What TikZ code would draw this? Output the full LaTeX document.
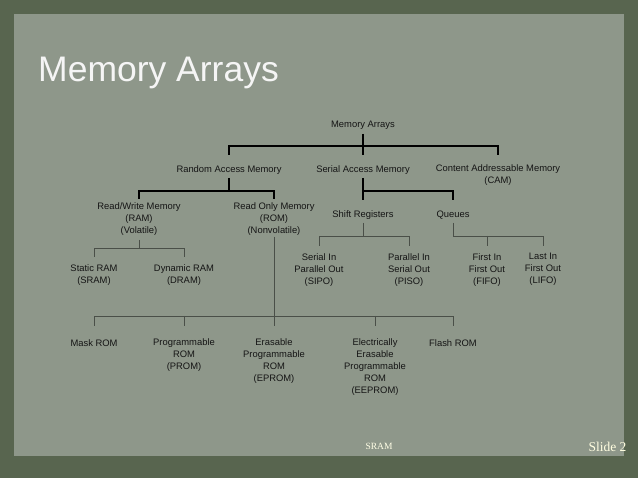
\documentclass[tikz,border=0pt]{standalone}
\usepackage{fontspec}
\setmainfont{Liberation Sans}
\newfontfamily\serifft{Liberation Serif}
\definecolor{outer}{HTML}{58654F}
\definecolor{panel}{HTML}{8E978A}
\definecolor{txt}{HTML}{151515}
\definecolor{thin}{HTML}{4A4F48}
\begin{document}
\begin{tikzpicture}[x=1pt,y=-1pt,
  lab/.style={align=center,font=\fontsize{9.4}{12}\selectfont,text=txt,inner sep=0pt,anchor=north,execute at begin node=\strut},
  thick1/.style={draw=black,line width=1.1pt},
  thin1/.style={draw=thin,line width=0.6pt}]
\useasboundingbox (0,0) rectangle (638,478);
\fill[outer] (0,0) rectangle (638,478);
\fill[panel] (14,14) rectangle (624,456);
\node[anchor=west,text=white!92!gray,font=\fontsize{35.5}{37}\selectfont,inner sep=0pt] (title) at (38,73) {Memory Arrays};
\node[lab] (ma) at (363,119) {Memory Arrays};
\node[lab] (ram) at (229,164) {Random Access Memory};
\node[lab] (sam) at (363,164) {Serial Access Memory};
\node[lab] (cam) at (498,164) {Content Addressable Memory\\(CAM)};
\node[lab] (rw) at (139,202) {Read/Write Memory\\(RAM)\\(Volatile)};
\node[lab] (rom) at (274,202) {Read Only Memory\\(ROM)\\(Nonvolatile)};
\node[lab] (sr) at (363,209) {Shift Registers};
\node[lab] (q) at (453,209) {Queues};
\node[lab] (sram) at (94,264) {Static RAM\\(SRAM)};
\node[lab] (dram) at (184,264) {Dynamic RAM\\(DRAM)};
\node[lab] (sipo) at (319,253) {Serial In\\Parallel Out\\(SIPO)};
\node[lab] (piso) at (409,253) {Parallel In\\Serial Out\\(PISO)};
\node[lab] (fifo) at (487,253) {First In\\First Out\\(FIFO)};
\node[lab] (lifo) at (543,253) {Last In\\First Out\\(LIFO)};
\node[lab] (mask) at (94,338) {Mask ROM};
\node[lab] (prom) at (184,338) {Programmable\\ROM\\(PROM)};
\node[lab] (eprom) at (274,338) {Erasable\\Programmable\\ROM\\(EPROM)};
\node[lab] (eeprom) at (375,338) {Electrically\\Erasable\\Programmable\\ROM\\(EEPROM)};
\node[lab] (flash) at (453,338) {Flash ROM};
\draw[thick1] (363,134) -- (363,146);
\draw[thick1] (229,155) -- (229,146) -- (498,146) -- (498,155);
\draw[thick1] (363,146) -- (363,155);
\draw[thick1] (229,178) -- (229,191);
\draw[thick1] (139,199) -- (139,191) -- (274,191) -- (274,199);
\draw[thick1] (363,178) -- (363,191) -- (453,191) -- (453,200);
\draw[thick1] (363,191) -- (363,200);
\draw[thin1] (139,240) -- (139,248);
\draw[thin1] (94,257) -- (94,248) -- (184,248) -- (184,257);
\draw[thin1] (363,223) -- (363,236);
\draw[thin1] (319,246) -- (319,236) -- (409,236) -- (409,246);
\draw[thin1] (453,223) -- (453,236) -- (543,236) -- (543,246);
\draw[thin1] (487,236) -- (487,246);
\draw[thin1] (274,237) -- (274,316);
\draw[thin1] (94,326) -- (94,316) -- (453,316) -- (453,326);
\foreach \x in {184,274,375} \draw[thin1] (\x,316) -- (\x,326);
\node[text=white!90!yellow,font=\serifft\fontsize{9.5}{10}\selectfont] (foot) at (379,446) {SRAM};
\node[anchor=east,text=white!88!yellow,font=\serifft\fontsize{13.5}{14}\selectfont] (slide) at (630,447) {Slide 2};
\end{tikzpicture}
\end{document}
